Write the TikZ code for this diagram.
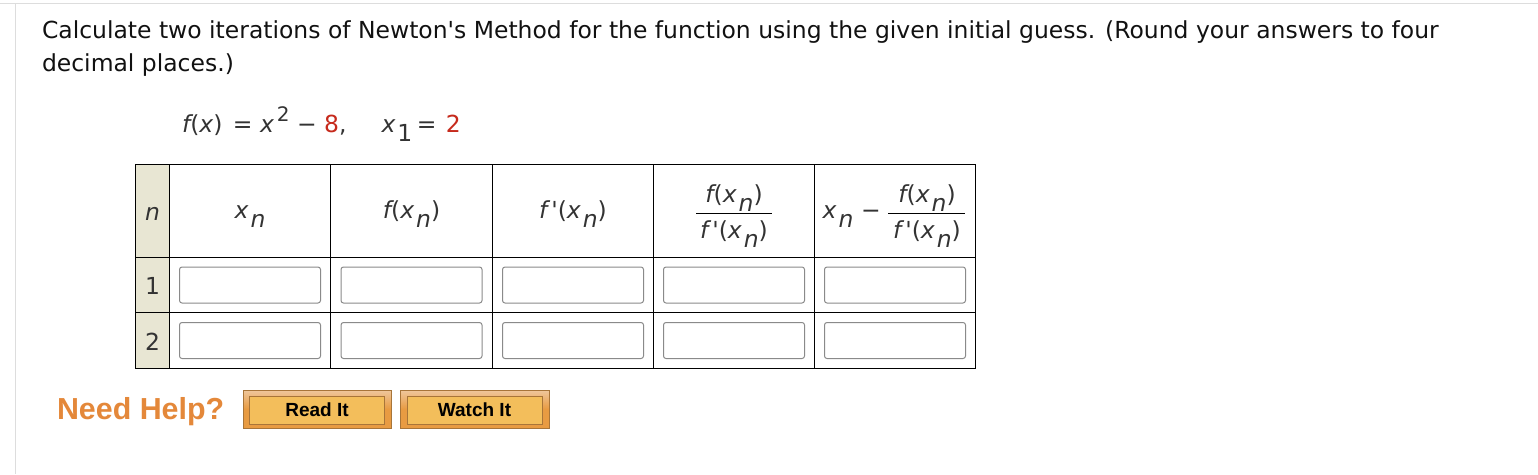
\documentclass[tikz,border=0pt]{standalone}
\usepackage{xcolor}
\usepackage{fontspec}
\setmainfont{DejaVu Sans}
\newfontfamily\helpfont{Liberation Sans}
\usetikzlibrary{positioning}
\definecolor{txtdark}{HTML}{111111}
\definecolor{mathgray}{HTML}{333333}
\definecolor{numred}{HTML}{C62A1C}
\definecolor{headfill}{HTML}{E8E6D3}
\definecolor{boxgray}{HTML}{8A8A8A}
\definecolor{pagegray}{HTML}{DDDDDD}
\definecolor{helporange}{HTML}{E4883A}
\definecolor{btnouter}{HTML}{E89B42}
\definecolor{btntop}{HTML}{EFC79C}
\definecolor{btninner}{HTML}{F3BE5B}
\definecolor{btnedge}{HTML}{A87539}
% subscript sits low and is nearly full size
\newcommand{\subn}{\hspace{2pt}\raisebox{-9pt}{\itshape n}}
\newcommand{\xn}{{\itshape x}\subn}
\newcommand{\fxn}{{\itshape f}({\itshape x}\subn)}
\newcommand{\dfxn}{{\itshape f\,}\textquotesingle({\itshape x}\subn)}

\begin{document}
\begin{tikzpicture}[x=1pt,y=-1pt,
every node/.style={inner sep=0pt,outer sep=0pt,text=txtdark,font=\fontsize{23.46}{28}\selectfont},
mathtext/.style={text=mathgray},
cell/.style={draw=black,line width=1.3pt,mathtext},
sidecell/.style={cell,fill=headfill,minimum width=34pt},
headcell/.style={cell,minimum height=93pt,text height=20pt,text depth=6pt},
bodycell/.style={cell},
inputbox/.style={draw=boxgray,line width=1pt,rounded corners=2.5pt,fill=white,minimum width=141pt,minimum height=36pt},
btnbox/.style={draw=btnedge,line width=1pt,top color=btntop,bottom color=btnouter,middle color=btnouter,minimum height=38pt},
btnface/.style={draw=btnedge,line width=1pt,fill=btninner,minimum height=28pt,text=black,font=\helpfont\bfseries\fontsize{19}{22}\selectfont}]
\useasboundingbox (0,0) rectangle (1538,474);

% page edges
\draw[pagegray,line width=1.2pt] (0,3.5) -- (1538,3.5);
\draw[pagegray,line width=1.2pt] (15.5,3.5) -- (15.5,474);

\node[anchor=base west] (line1) at (42,38) {Calculate two iterations of Newton\textquotesingle s Method for the function using the given initial guess. (Round your answers to four};
\node[anchor=base west] (line2) at (42,71) {decimal places.)};
\node[anchor=base west,mathtext] (formula) at (182,132) {{\itshape f}({\itshape x})\hspace{3pt} = {\itshape x}\hspace{3pt}\raisebox{11pt}{\fontsize{20}{24}\selectfont 2} − \textcolor{numred}{8},\hspace{35pt}{\itshape x}\hspace{2pt}\raisebox{-9pt}{1}\hspace{-3pt} = \hspace{2pt}\textcolor{numred}{2}};

% table head
\node[sidecell,headcell,text depth=2pt] (hn) at (152.5,211) {\itshape n};
\node[headcell,minimum width=161pt] (hx) at (250,211) {\xn};
\node[headcell,minimum width=162pt] (hf) at (411.5,211) {\fxn};
\node[headcell,minimum width=161pt] (hd) at (573,211) {\dfxn};
\node[headcell,minimum width=161pt] (hq) at (734,211) {};
\node[headcell,minimum width=161pt] (hs) at (895,211) {};

% quotient columns
\node[mathtext,anchor=base] (qnum) at (734,202) {\fxn};
\node[mathtext,anchor=base] (qden) at (734,238) {\dfxn};
\draw[black,line width=1pt] (696,213) coordinate (qa) -- (772,213) coordinate (qb);
\node[mathtext,anchor=base] (sx) at (838,218) {\xn};
\node[mathtext,anchor=base] (sm) at (871,218) {−};
\node[mathtext,anchor=base] (snum) at (927,202) {\fxn};
\node[mathtext,anchor=base] (sden) at (927,238) {\dfxn};
\draw[black,line width=1pt] (888,213) coordinate (sa) -- (965,213) coordinate (sb);

% rows
\foreach \row/\yc/\rowh/\num in {1/285/55/1,2/340.5/56/2}{
  \node[sidecell,text height=19pt,minimum height=\rowh pt] (side\row) at (152.5,\yc) {\num};
  \foreach \col/\xc/\colw in {a/250/161,b/411.5/162,c/573/161,d/734/161,e/895/161}{
    \node[bodycell,minimum width=\colw pt,minimum height=\rowh pt] (cell\col\row) at (\xc,\yc) {};
    \node[inputbox] (in\col\row) at (\xc,\yc) {};
  }
}

% help line
\node[anchor=base west,text=helporange,font=\helpfont\bfseries\fontsize{30.4}{34}\selectfont] (help) at (57,419) {Need Help?};
\node[btnbox,minimum width=148pt] (readouter) at (317,409) {};
\node[btnface,minimum width=135pt] (readbtn) at (317,410) {Read It};
\node[btnbox,minimum width=149pt] (watchouter) at (474.5,409) {};
\node[btnface,minimum width=135pt] (watchbtn) at (474.5,410) {Watch It};
\end{tikzpicture}
\end{document}
